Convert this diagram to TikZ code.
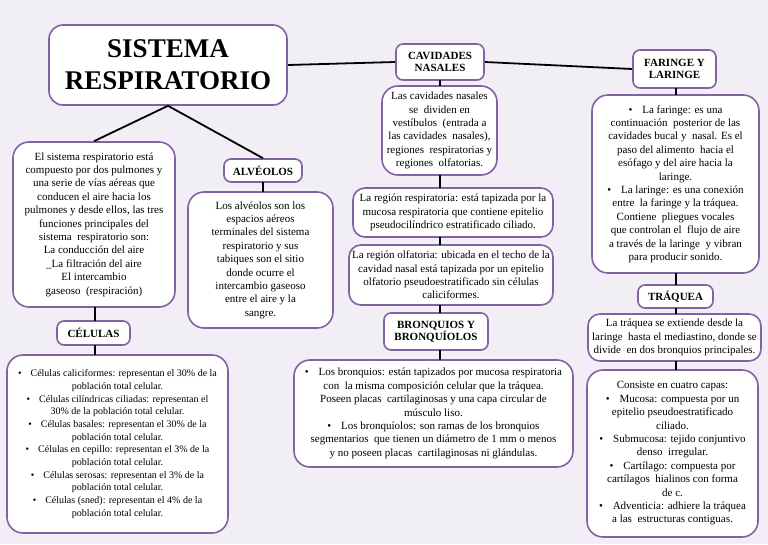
\documentclass[tikz,border=0pt]{standalone}
\usepackage{fontspec}
\setmainfont{Liberation Serif}
\newcommand{\bodyf}{\fontsize{11}{13.4}\selectfont}
\newcommand{\celf}{\fontsize{10}{12.7}\selectfont}
\newcommand{\hdrf}{\fontsize{11}{12}\selectfont\bfseries}
\newcommand{\titlef}{\fontsize{27}{32}\selectfont\bfseries}
\newcommand{\bul}{\textbullet\hspace{0.9em}}
\definecolor{bgc}{RGB}{241,238,246}
\definecolor{boxpurple}{RGB}{128,100,162}
\tikzset{
  box/.style={draw=boxpurple, line width=1.6pt, fill=white, rounded corners=16pt,
    align=center, inner sep=0pt, font=\bodyf},
  hdr/.style={box, rounded corners=7pt, font=\hdrf},
  conn/.style={draw=black, line width=1.8pt},
}
\begin{document}
\begin{tikzpicture}[x=1pt,y=-1pt]
\path[fill=bgc] (0,0) rectangle (768,544);
\useasboundingbox (0,0) rectangle (768,544);

% title
\node[box, rounded corners=14pt, font=\titlef, minimum width=238pt, minimum height=80pt] (title) at (168,65) {SISTEMA\\RESPIRATORIO};

% left column
\node[box, minimum width=162pt, minimum height=165pt] (left) at (94,224.5)
{El sistema respiratorio está\\compuesto por dos pulmones y\\una serie de vías aéreas que\\conducen el aire hacia los\\pulmones y desde ellos, las tres\\funciones principales del\\sistema\ \ respiratorio son:\\La conducción del aire\\\_La filtración del aire\\El intercambio\\gaseoso\ \ (respiración)};
\node[hdr, minimum width=73pt, minimum height=24pt] (celh) at (93.5,333) {CÉLULAS};
\node[box, font=\celf, minimum width=221pt, minimum height=178pt] (celbox) at (117.5,444)
{\bul Células caliciformes: representan el 30\% de la\\población total celular.\\
\bul Células cilíndricas ciliadas: representan el\\30\% de la población total celular.\\
\bul Células basales: representan el 30\% de la\\población total celular.\\
\bul Células en cepillo: representan el 3\% de la\\población total celular.\\
\bul Células serosas: representan el 3\% de la\\población total celular.\\
\bul Células (sned): representan el 4\% de la\\población total celular.};

% alveolos
\node[hdr, minimum width=78pt, minimum height=23pt] (alvh) at (263,170.5) {ALVÉOLOS};
\node[box, minimum width=145pt, minimum height=136pt] (alvbox) at (260.5,260)
{Los alvéolos son los\\espacios aéreos\\terminales del sistema\\respiratorio y sus\\tabiques son el sitio\\donde ocurre el\\intercambio gaseoso\\entre el aire y la\\sangre.};

% cavidades column
\node[hdr, minimum width=88pt, minimum height=36pt] (cavh) at (440,62) {CAVIDADES\\NASALES};
\node[box, minimum width=115pt, minimum height=89pt] (cavbox) at (439.5,130.5)
{Las cavidades nasales\\se\ \ dividen en\\vestíbulos\ \ (entrada a\\las cavidades\ \ nasales),\\regiones\ \ respiratorias y\\regiones\ \ olfatorias.};
\node[box, rounded corners=12pt, minimum width=200pt, minimum height=49pt] (resp) at (453,212.5)
{La región respiratoria: está tapizada por la\\mucosa respiratoria que contiene epitelio\\pseudocilíndrico estratificado ciliado.};
\node[box, rounded corners=12pt, minimum width=204pt, minimum height=60pt] (olf) at (451,275)
{La región olfatoria: ubicada en el techo de la\\cavidad nasal está tapizada por un epitelio\\olfatorio pseudoestratificado sin células\\caliciformes.};
\node[hdr, minimum width=104pt, minimum height=37pt] (bronh) at (436,331.5) {BRONQUIOS Y\\BRONQUÍOLOS};
\node[box, minimum width=279pt, minimum height=107pt] (bronbox) at (433.5,413.5)
{\bul Los bronquios: están tapizados por mucosa respiratoria\\con\ \ la misma composición celular que la tráquea.\\Poseen placas\ \ cartilaginosas y una capa circular de\\músculo liso.\\
\bul Los bronquíolos: son ramas de los bronquios\\segmentarios\ \ que tienen un diámetro de 1 mm o menos\\y no poseen placas\ \ cartilaginosas ni glándulas.};

% faringe column
\node[hdr, minimum width=83pt, minimum height=38pt] (farh) at (674.5,69) {FARINGE Y\\LARINGE};
\node[box, minimum width=167pt, minimum height=178pt] (farbox) at (675.5,184)
{\bul La faringe: es una\\continuación\ \ posterior de las\\cavidades bucal y\ \ nasal. Es el\\paso del alimento\ \ hacia el\\esófago y del aire hacia la\\laringe.\\
\bul La laringe: es una conexión\\entre\ \ la faringe y la tráquea.\\Contiene\ \ pliegues vocales\\que controlan el\ \ flujo de aire\\a través de la laringe\ \ y vibran\\para producir sonido.};
\node[hdr, minimum width=75pt, minimum height=23pt] (traqh) at (675.5,296.5) {TRÁQUEA};
\node[box, rounded corners=12pt, minimum width=173pt, minimum height=47pt] (traqbox) at (674.5,337.5)
{La tráquea se extiende desde la\\laringe\ \ hasta el mediastino, donde se\\divide\ \ en dos bronquios principales.};
\node[box, minimum width=171pt, minimum height=167pt] (capas) at (672.5,453.5)
{Consiste en cuatro capas:\\\bul Mucosa: compuesta por un\\epitelio pseudoestratificado\\ciliado.\\
\bul Submucosa: tejido conjuntivo\\denso\ \ irregular.\\
\bul Cartílago: compuesta por\\cartílagos\ \ hialinos con forma\\de c.\\
\bul Adventicia: adhiere la tráquea\\a las\ \ estructuras contiguas.};

% connectors
\draw[conn] (title.south) -- (left.north);
\draw[conn] (title.south) -- (alvh.north);
\draw[conn] (title.east) -- (cavh.west);
\draw[conn] (cavh.east) -- (farh.west);
\draw[conn] (95,307) -- (95,321);
\draw[conn] (95,345) -- (95,355);
\draw[conn] (263,182) -- (263,192);
\draw[conn] (440,80) -- (440,86);
\draw[conn] (440,175) -- (440,188);
\draw[conn] (440,237) -- (440,245);
\draw[conn] (440,305) -- (440,313);
\draw[conn] (440,350) -- (440,360);
\draw[conn] (676,88) -- (676,95);
\draw[conn] (676,273) -- (676,285);
\draw[conn] (676,308) -- (676,314);
\draw[conn] (676,361) -- (676,370);
\end{tikzpicture}
\end{document}
